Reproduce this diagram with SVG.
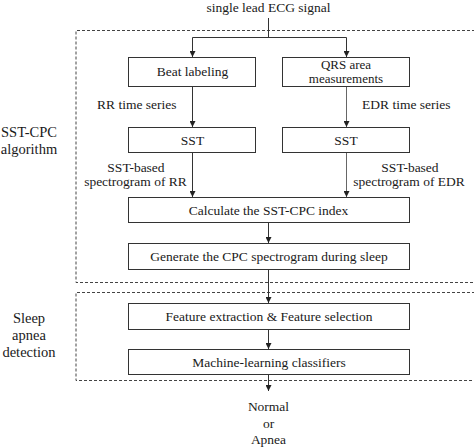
<svg xmlns="http://www.w3.org/2000/svg" width="474" height="447" viewBox="0 0 474 447">
<style>
text{font-family:"Liberation Serif","Times New Roman",serif;font-size:13.5px;fill:#1a1a1a}
.side{font-size:14.5px;text-anchor:middle}
.c{text-anchor:middle}
.sm{font-size:13px}
.box{fill:#fff;stroke:#333;stroke-width:1}
.dash{fill:none;stroke:#444;stroke-width:1;stroke-dasharray:3 2}
.ln{fill:none;stroke:#333;stroke-width:1}
.ln2{fill:none;stroke:#666;stroke-width:1}
</style>
<defs>
<marker id="ah" markerWidth="6" markerHeight="6" refX="6" refY="3" orient="auto" markerUnits="userSpaceOnUse">
<path d="M0,0 L6,3 L0,6 Z" fill="#222"/>
</marker>
</defs>
<rect width="474" height="447" fill="#fff"/>
<g id="regions">
<path class="dash" d="M480,30.5 H76 V282.5 H480"/>
<path class="dash" d="M480,292.5 H76 V380.5 H480"/>
<text class="side" x="29" y="136.5">SST-CPC</text>
<text class="side" x="29" y="153.5">algorithm</text>
<text class="side" x="29" y="322.5">Sleep</text>
<text class="side" x="29" y="339.5">apnea</text>
<text class="side" x="29" y="356.5">detection</text>
</g>
<g id="connectors">
<path class="ln" d="M268.5,18 V37.5 M192.5,37.5 H346.5" />
<path class="ln" d="M192.5,37.5 V57" marker-end="url(#ah)"/>
<path class="ln" d="M346.5,37.5 V57" marker-end="url(#ah)"/>
<path class="ln" d="M192.5,87 V127" marker-end="url(#ah)"/>
<path class="ln2" d="M346.5,87 V127" marker-end="url(#ah)"/>
<path class="ln" d="M192.5,153 V197" marker-end="url(#ah)"/>
<path class="ln2" d="M346.5,153 V197" marker-end="url(#ah)"/>
<path class="ln" d="M268.5,223 V243" marker-end="url(#ah)"/>
<path class="ln" d="M268.5,270 V303" marker-end="url(#ah)"/>
<path class="ln" d="M268.5,329 V349" marker-end="url(#ah)"/>
<path class="ln" d="M268.5,375 V391" marker-end="url(#ah)"/>
<text x="97" y="109">RR time series</text>
<text x="362" y="109">EDR time series</text>
<text class="c" x="136" y="171.5">SST-based</text>
<text class="c" x="135.5" y="186">spectrogram of RR</text>
<text class="c" x="410" y="171.5">SST-based</text>
<text class="c" x="409" y="186">spectrogram of EDR</text>
</g>
<g id="input"><text class="c" x="268.5" y="11.5">single lead ECG signal</text></g>
<g id="beat"><rect class="box" x="128.5" y="57.5" width="127" height="29"/><text class="c" x="192.5" y="76">Beat labeling</text></g>
<g id="qrs"><rect class="box" x="282.5" y="57.5" width="127" height="29"/><text class="c sm" x="346" y="69">QRS area</text><text class="c sm" x="346" y="82.5">measurements</text></g>
<g id="sst1"><rect class="box" x="128.5" y="127.5" width="127" height="25"/><text class="c" x="192.5" y="145">SST</text></g>
<g id="sst2"><rect class="box" x="282.5" y="127.5" width="127" height="25"/><text class="c" x="346" y="145">SST</text></g>
<g id="calc"><rect class="box" x="128.5" y="197.5" width="281" height="25"/><text class="c" x="268.5" y="214.5">Calculate the SST-CPC index</text></g>
<g id="gen"><rect class="box" x="128.5" y="243.5" width="281" height="26"/><text class="c" x="269" y="261">Generate the CPC spectrogram during sleep</text></g>
<g id="feat"><rect class="box" x="128.5" y="303.5" width="281" height="26"/><text class="c" x="269" y="320.5">Feature extraction &amp; Feature selection</text></g>
<g id="ml"><rect class="box" x="128.5" y="349.5" width="281" height="25"/><text class="c" x="269" y="366.5">Machine-learning classifiers</text></g>
<g id="output"><text class="c" x="268.5" y="410.5">Normal</text><text class="c" x="268.5" y="427.5">or</text><text class="c" x="268.5" y="444">Apnea</text></g>
</svg>
